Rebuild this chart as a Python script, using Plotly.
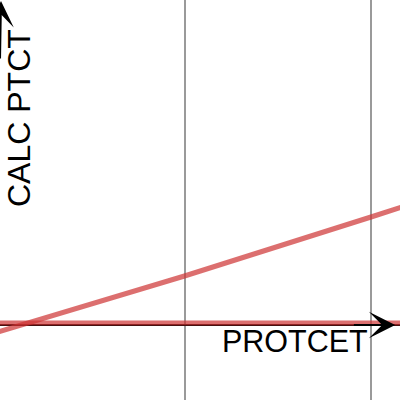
import plotly.graph_objects as go

# values
protcet = [0, 1, 2, 2.2]
calc_ptct = [-0.07, 0.49, 1.08, 1.2]
flat_ptct = [0.02, 0.02, 0.02, 0.02]

red = 'rgba(205,50,50,0.7)'

fig = go.Figure()
fig.add_trace(go.Scatter(x=protcet, y=flat_ptct, mode='lines',
                         line=dict(color=red, width=5), showlegend=False))
fig.add_trace(go.Scatter(x=protcet, y=calc_ptct, mode='lines',
                         line=dict(color=red, width=5), showlegend=False))

# axis arrows
fig.add_annotation(x=2.13, y=0, ax=1.9, ay=0, xref='x', yref='y', axref='x', ayref='y',
                   text='', showarrow=True, arrowhead=3, arrowsize=2.2, arrowwidth=2,
                   arrowcolor='black')
fig.add_annotation(x=0, y=1, xref='paper', yref='paper', ax=0, ay=60,
                   text='', showarrow=True, arrowhead=3, arrowsize=2.2, arrowwidth=2,
                   arrowcolor='black')

# axis titles
fig.add_annotation(x=19 / 400, y=1 - 118 / 400, xref='paper', yref='paper',
                   text='CALC PTCT', textangle=-90, showarrow=False,
                   xanchor='center', yanchor='middle',
                   font=dict(family='Liberation Sans, Arial', size=32, color='black'))
fig.add_annotation(x=295 / 400, y=1 - 341 / 400, xref='paper', yref='paper',
                   text='PROTCET', showarrow=False, xanchor='center', yanchor='middle',
                   font=dict(family='Liberation Sans, Arial', size=30.5, color='black'))

fig.update_xaxes(range=[0.0107, 2.1555], dtick=1, showgrid=True, gridcolor='#9a9a9a',
                 gridwidth=1.5, zeroline=False, showticklabels=False, showline=False)
fig.update_yaxes(range=[-0.75, 3.25], showgrid=False, zeroline=True, zerolinecolor='black',
                 zerolinewidth=2, showticklabels=False, showline=True, linecolor='black',
                 linewidth=2)

fig.update_layout(width=400, height=400, margin=dict(l=0, r=0, t=0, b=0),
                  plot_bgcolor='white', paper_bgcolor='white')

fig.write_html("out.html", config={'displayModeBar': False},
               post_script="document.body.style.margin='0';")
